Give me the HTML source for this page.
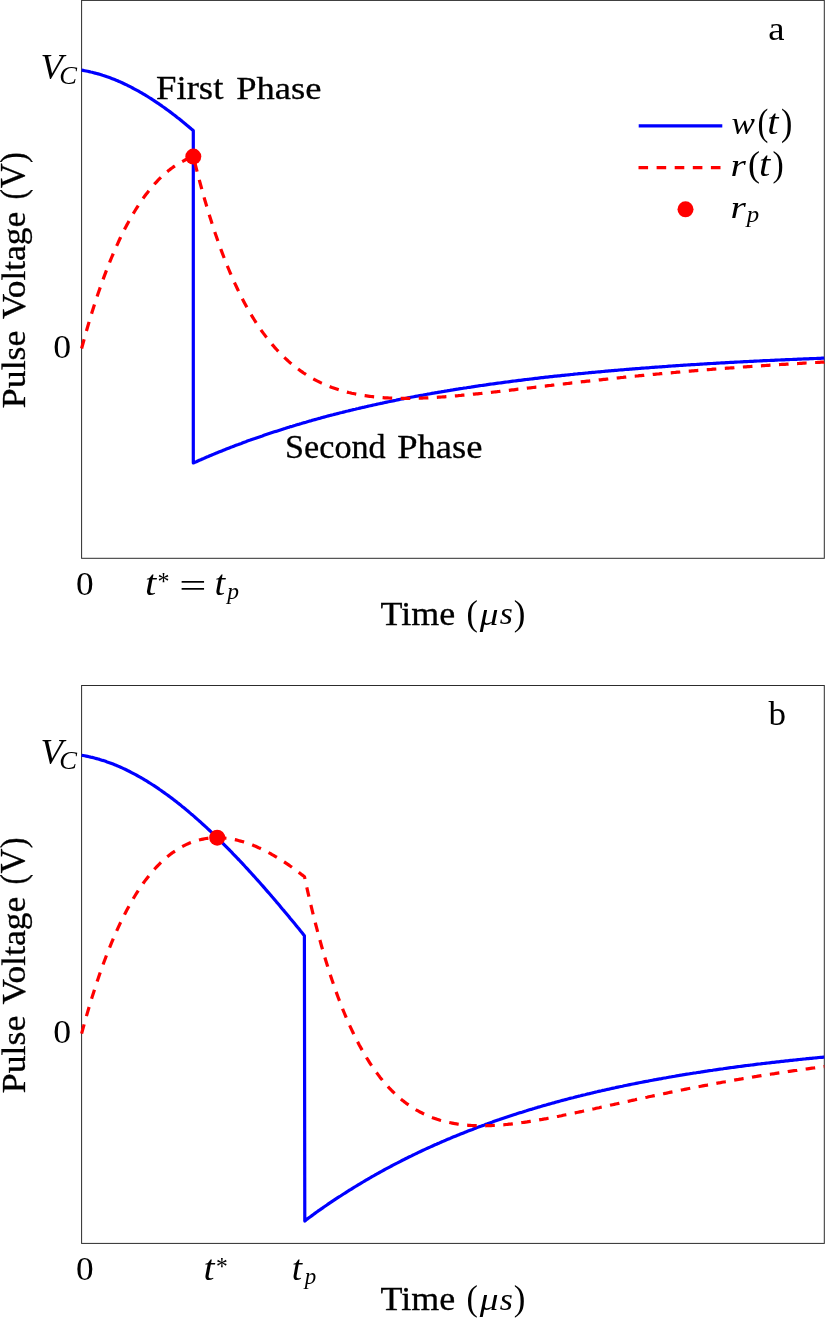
<!DOCTYPE html>
<html><head><meta charset="utf-8"><title>Pulse waveforms</title>
<style>
html,body{margin:0;padding:0;background:#fff;}
svg{display:block}
text{font-family:"Liberation Serif","DejaVu Serif",serif;font-size:100px;fill:#000}
.k{stroke:#000;stroke-width:0.9px}
.i{font-style:italic}
.c{fill:none;stroke-width:3.2;stroke-linejoin:round}
</style></head><body>
<svg width="825" height="1318" viewBox="0 0 825 1318">
<rect width="825" height="1318" fill="#fff"/>
<!-- panel a -->
<rect x="81.6" y="0.4" width="742.7" height="557.9" fill="none" stroke="#2c2c2c" stroke-width="1"/>
<polyline class="c" stroke="#0000ff" points="81.6,70.2 83.1,70.4 84.6,70.7 86.1,71.0 87.6,71.3 89.1,71.6 90.6,72.0 92.1,72.3 93.6,72.7 95.1,73.1 96.6,73.5 98.1,73.9 99.6,74.3 101.1,74.8 102.6,75.3 104.1,75.7 105.6,76.2 107.1,76.8 108.6,77.3 110.1,77.8 111.6,78.4 113.1,79.0 114.6,79.6 116.1,80.2 117.6,80.8 119.1,81.5 120.6,82.1 122.1,82.8 123.6,83.5 125.1,84.2 126.6,84.9 128.1,85.7 129.6,86.4 131.1,87.2 132.6,88.0 134.1,88.8 135.6,89.6 137.1,90.4 138.6,91.2 140.1,92.1 141.6,92.9 143.1,93.8 144.6,94.7 146.1,95.6 147.6,96.5 149.1,97.5 150.6,98.4 152.1,99.4 153.6,100.3 155.1,101.3 156.6,102.3 158.1,103.3 159.6,104.4 161.1,105.4 162.6,106.5 164.1,107.5 165.6,108.6 167.1,109.7 168.6,110.8 170.1,111.9 171.6,113.0 173.1,114.2 174.6,115.3 176.1,116.5 177.6,117.7 179.1,118.8 180.6,120.0 182.1,121.3 183.6,122.5 185.1,123.7 186.6,125.0 188.1,126.2 189.6,127.5 191.1,128.8 192.6,130.0 193.3,130.7 193.3,463.0 194.8,462.3 196.3,461.7 197.8,461.0 199.3,460.3 200.8,459.7 202.3,459.0 203.8,458.4 205.3,457.7 206.8,457.1 208.3,456.5 209.8,455.8 211.3,455.2 212.8,454.6 214.3,453.9 215.8,453.3 217.3,452.7 218.8,452.1 220.3,451.5 221.8,450.9 223.3,450.3 224.8,449.7 226.3,449.1 227.8,448.5 229.3,447.9 230.8,447.3 232.3,446.8 233.8,446.2 235.3,445.6 236.8,445.0 238.3,444.5 239.8,443.9 241.3,443.4 242.8,442.8 244.3,442.2 245.8,441.7 247.3,441.1 248.8,440.6 250.3,440.1 251.8,439.5 253.3,439.0 254.8,438.5 256.4,437.9 257.9,437.4 259.4,436.9 260.9,436.4 262.4,435.9 263.9,435.3 265.4,434.8 266.9,434.3 268.4,433.8 269.9,433.3 271.4,432.8 272.9,432.3 274.4,431.8 275.9,431.4 277.4,430.9 278.9,430.4 280.4,429.9 281.9,429.4 283.4,428.9 284.9,428.5 286.4,428.0 287.9,427.5 289.4,427.1 290.9,426.6 292.4,426.2 293.9,425.7 295.4,425.3 296.9,424.8 298.4,424.4 299.9,423.9 301.4,423.5 302.9,423.0 304.4,422.6 305.9,422.2 307.4,421.7 308.9,421.3 310.4,420.9 311.9,420.4 313.4,420.0 314.9,419.6 316.4,419.2 317.9,418.8 319.4,418.4 320.9,417.9 322.4,417.5 323.9,417.1 325.4,416.7 326.9,416.3 328.4,415.9 329.9,415.5 331.4,415.1 332.9,414.8 334.4,414.4 335.9,414.0 337.4,413.6 338.9,413.2 340.4,412.8 341.9,412.5 343.4,412.1 344.9,411.7 346.4,411.3 347.9,411.0 349.4,410.6 350.9,410.2 352.4,409.9 353.9,409.5 355.4,409.2 356.9,408.8 358.4,408.5 359.9,408.1 361.4,407.7 362.9,407.4 364.4,407.1 365.9,406.7 367.4,406.4 368.9,406.0 370.4,405.7 371.9,405.4 373.4,405.0 374.9,404.7 376.4,404.4 377.9,404.0 379.4,403.7 380.9,403.4 382.4,403.1 383.9,402.7 385.4,402.4 386.9,402.1 388.4,401.8 389.9,401.5 391.4,401.2 392.9,400.9 394.4,400.6 395.9,400.3 397.4,399.9 398.9,399.6 400.4,399.3 401.9,399.0 403.4,398.8 404.9,398.5 406.4,398.2 407.9,397.9 409.4,397.6 410.9,397.3 412.4,397.0 413.9,396.7 415.4,396.4 416.9,396.2 418.4,395.9 419.9,395.6 421.4,395.3 422.9,395.1 424.4,394.8 425.9,394.5 427.4,394.2 428.9,394.0 430.4,393.7 431.9,393.4 433.4,393.2 434.9,392.9 436.4,392.7 437.9,392.4 439.4,392.1 440.9,391.9 442.4,391.6 443.9,391.4 445.4,391.1 446.9,390.9 448.4,390.6 449.9,390.4 451.4,390.1 452.9,389.9 454.4,389.6 455.9,389.4 457.4,389.2 458.9,388.9 460.4,388.7 461.9,388.5 463.4,388.2 464.9,388.0 466.4,387.8 467.9,387.5 469.4,387.3 470.9,387.1 472.4,386.8 473.9,386.6 475.4,386.4 476.9,386.2 478.4,385.9 479.9,385.7 481.4,385.5 482.9,385.3 484.4,385.1 485.9,384.9 487.4,384.6 488.9,384.4 490.4,384.2 491.9,384.0 493.4,383.8 494.9,383.6 496.4,383.4 497.9,383.2 499.4,383.0 500.9,382.8 502.4,382.6 503.9,382.4 505.4,382.2 506.9,382.0 508.4,381.8 509.9,381.6 511.4,381.4 512.9,381.2 514.4,381.0 515.9,380.8 517.4,380.6 518.9,380.4 520.4,380.3 521.9,380.1 523.4,379.9 524.9,379.7 526.4,379.5 527.9,379.3 529.4,379.2 530.9,379.0 532.4,378.8 533.9,378.6 535.4,378.4 536.9,378.3 538.4,378.1 539.9,377.9 541.4,377.7 542.9,377.6 544.4,377.4 545.9,377.2 547.4,377.1 548.9,376.9 550.4,376.7 551.9,376.6 553.4,376.4 554.9,376.2 556.4,376.1 557.9,375.9 559.4,375.8 560.9,375.6 562.4,375.4 563.9,375.3 565.4,375.1 566.9,375.0 568.4,374.8 569.9,374.7 571.4,374.5 572.9,374.4 574.4,374.2 575.9,374.0 577.4,373.9 578.9,373.7 580.4,373.6 581.9,373.5 583.4,373.3 584.9,373.2 586.4,373.0 587.9,372.9 589.4,372.7 590.9,372.6 592.4,372.4 593.9,372.3 595.4,372.2 596.9,372.0 598.4,371.9 599.9,371.8 601.4,371.6 602.9,371.5 604.4,371.3 605.9,371.2 607.4,371.1 608.9,370.9 610.4,370.8 611.9,370.7 613.4,370.6 614.9,370.4 616.4,370.3 617.9,370.2 619.4,370.0 620.9,369.9 622.4,369.8 623.9,369.7 625.4,369.5 626.9,369.4 628.4,369.3 629.9,369.2 631.4,369.1 632.9,368.9 634.4,368.8 635.9,368.7 637.4,368.6 638.9,368.5 640.4,368.3 641.9,368.2 643.4,368.1 644.9,368.0 646.4,367.9 647.9,367.8 649.4,367.7 650.9,367.5 652.4,367.4 653.9,367.3 655.4,367.2 656.9,367.1 658.4,367.0 659.9,366.9 661.4,366.8 662.9,366.7 664.4,366.6 665.9,366.5 667.4,366.3 668.9,366.2 670.4,366.1 671.9,366.0 673.4,365.9 674.9,365.8 676.4,365.7 677.9,365.6 679.4,365.5 680.9,365.4 682.4,365.3 683.9,365.2 685.4,365.1 686.9,365.0 688.4,364.9 689.9,364.8 691.4,364.7 692.9,364.6 694.4,364.6 695.9,364.5 697.4,364.4 698.9,364.3 700.4,364.2 701.9,364.1 703.4,364.0 704.9,363.9 706.4,363.8 707.9,363.7 709.4,363.6 710.9,363.5 712.4,363.5 713.9,363.4 715.4,363.3 716.9,363.2 718.4,363.1 719.9,363.0 721.4,362.9 722.9,362.9 724.4,362.8 725.9,362.7 727.4,362.6 728.9,362.5 730.4,362.4 731.9,362.4 733.4,362.3 734.9,362.2 736.4,362.1 737.9,362.0 739.4,362.0 740.9,361.9 742.4,361.8 743.9,361.7 745.4,361.6 746.9,361.6 748.4,361.5 749.9,361.4 751.4,361.3 752.9,361.3 754.4,361.2 755.9,361.1 757.4,361.0 758.9,361.0 760.4,360.9 761.9,360.8 763.4,360.7 764.9,360.7 766.4,360.6 767.9,360.5 769.4,360.5 770.9,360.4 772.4,360.3 773.9,360.3 775.4,360.2 776.9,360.1 778.4,360.0 779.9,360.0 781.4,359.9 782.9,359.8 784.4,359.8 785.9,359.7 787.4,359.6 788.9,359.6 790.4,359.5 791.9,359.5 793.4,359.4 794.9,359.3 796.4,359.3 797.9,359.2 799.4,359.1 800.9,359.1 802.4,359.0 803.9,358.9 805.4,358.9 806.9,358.8 808.4,358.8 809.9,358.7 811.4,358.6 812.9,358.6 814.4,358.5 815.9,358.5 817.4,358.4 818.9,358.4 820.4,358.3 821.9,358.2 823.4,358.2 824.3,358.1"/>
<polyline class="c" stroke="#ff0000" stroke-dasharray="9.6 8.5" points="81.6,348.5 83.1,343.0 84.6,337.5 86.1,332.2 87.6,327.0 89.1,321.9 90.6,316.9 92.1,312.0 93.6,307.3 95.1,302.6 96.6,298.0 98.1,293.6 99.6,289.2 101.1,284.9 102.6,280.7 104.1,276.6 105.6,272.6 107.1,268.7 108.6,264.9 110.1,261.2 111.6,257.5 113.1,254.0 114.6,250.5 116.1,247.1 117.6,243.8 119.1,240.5 120.6,237.3 122.1,234.3 123.6,231.2 125.1,228.3 126.6,225.4 128.1,222.7 129.6,219.9 131.1,217.3 132.6,214.7 134.1,212.2 135.6,209.7 137.1,207.3 138.6,205.0 140.1,202.8 141.6,200.6 143.1,198.4 144.6,196.3 146.1,194.3 147.6,192.4 149.1,190.5 150.6,188.6 152.1,186.8 153.6,185.1 155.1,183.4 156.6,181.8 158.1,180.2 159.6,178.7 161.1,177.2 162.6,175.8 164.1,174.4 165.6,173.1 167.1,171.8 168.6,170.6 170.1,169.4 171.6,168.3 173.1,167.2 174.6,166.2 176.1,165.2 177.6,164.2 179.1,163.3 180.6,162.4 182.1,161.6 183.6,160.8 185.1,160.0 186.6,159.3 188.1,158.6 189.6,158.0 191.1,157.4 192.6,156.9 193.3,156.6 194.1,159.7 195.6,165.7 197.1,171.6 198.6,177.4 200.1,183.0 201.6,188.5 203.1,193.9 204.6,199.2 206.1,204.3 207.6,209.4 209.1,214.3 210.6,219.1 212.1,223.8 213.6,228.4 215.1,232.9 216.6,237.3 218.1,241.6 219.6,245.8 221.1,249.9 222.6,253.9 224.1,257.8 225.6,261.6 227.1,265.4 228.6,269.0 230.1,272.6 231.6,276.1 233.1,279.5 234.6,282.8 236.1,286.0 237.6,289.2 239.1,292.3 240.6,295.3 242.1,298.3 243.6,301.2 245.1,304.0 246.6,306.7 248.1,309.4 249.6,312.0 251.1,314.6 252.6,317.1 254.1,319.5 255.6,321.9 257.1,324.2 258.6,326.4 260.1,328.6 261.6,330.8 263.1,332.9 264.6,334.9 266.1,336.9 267.6,338.9 269.1,340.7 270.6,342.6 272.1,344.4 273.6,346.1 275.1,347.9 276.6,349.5 278.1,351.1 279.6,352.7 281.1,354.3 282.6,355.8 284.1,357.2 285.6,358.6 287.1,360.0 288.6,361.4 290.1,362.7 291.6,363.9 293.1,365.2 294.6,366.4 296.1,367.6 297.6,368.7 299.1,369.8 300.6,370.9 302.1,371.9 303.6,373.0 305.1,373.9 306.6,374.9 308.1,375.8 309.6,376.7 311.1,377.6 312.6,378.5 314.1,379.3 315.6,380.1 317.1,380.9 318.6,381.6 320.1,382.4 321.6,383.1 323.1,383.8 324.6,384.4 326.1,385.1 327.6,385.7 329.1,386.3 330.6,386.9 332.1,387.5 333.6,388.0 335.1,388.5 336.6,389.0 338.1,389.5 339.6,390.0 341.1,390.4 342.6,390.9 344.1,391.3 345.6,391.7 347.1,392.1 348.6,392.5 350.1,392.8 351.6,393.2 353.1,393.5 354.6,393.8 356.1,394.1 357.6,394.4 359.1,394.7 360.6,395.0 362.1,395.2 363.6,395.5 365.1,395.7 366.6,395.9 368.1,396.1 369.6,396.3 371.1,396.5 372.6,396.7 374.1,396.9 375.6,397.0 377.1,397.2 378.6,397.3 380.1,397.4 381.6,397.6 383.1,397.7 384.6,397.8 386.1,397.9 387.6,397.9 389.1,398.0 390.6,398.1 392.1,398.1 393.6,398.2 395.1,398.2 396.6,398.3 398.1,398.3 399.6,398.3 401.1,398.4 402.6,398.4 404.1,398.4 405.6,398.4 407.1,398.4 408.6,398.4 410.1,398.4 411.6,398.3 413.1,398.3 414.6,398.3 416.1,398.2 417.6,398.2 419.1,398.2 420.6,398.1 422.1,398.1 423.6,398.0 425.1,397.9 426.6,397.9 428.1,397.8 429.6,397.7 431.1,397.6 432.6,397.5 434.1,397.5 435.6,397.4 437.1,397.3 438.6,397.2 440.1,397.1 441.6,397.0 443.1,396.9 444.6,396.8 446.1,396.6 447.6,396.5 449.1,396.4 450.6,396.3 452.1,396.2 453.6,396.0 455.1,395.9 456.6,395.8 458.1,395.7 459.6,395.5 461.1,395.4 462.6,395.2 464.1,395.1 465.6,395.0 467.1,394.8 468.6,394.7 470.1,394.5 471.6,394.4 473.1,394.2 474.6,394.1 476.1,393.9 477.6,393.8 479.1,393.6 480.6,393.5 482.1,393.3 483.6,393.1 485.1,393.0 486.6,392.8 488.1,392.7 489.6,392.5 491.1,392.3 492.6,392.2 494.1,392.0 495.6,391.8 497.1,391.7 498.6,391.5 500.1,391.3 501.6,391.1 503.1,391.0 504.6,390.8 506.1,390.6 507.6,390.5 509.1,390.3 510.6,390.1 512.1,389.9 513.6,389.8 515.1,389.6 516.6,389.4 518.1,389.2 519.6,389.1 521.1,388.9 522.6,388.7 524.1,388.5 525.6,388.4 527.1,388.2 528.6,388.0 530.1,387.8 531.6,387.7 533.1,387.5 534.6,387.3 536.1,387.1 537.6,387.0 539.1,386.8 540.6,386.6 542.1,386.4 543.6,386.2 545.1,386.1 546.6,385.9 548.1,385.7 549.6,385.5 551.1,385.4 552.6,385.2 554.1,385.0 555.6,384.8 557.1,384.7 558.6,384.5 560.1,384.3 561.6,384.1 563.1,384.0 564.6,383.8 566.1,383.6 567.6,383.5 569.1,383.3 570.6,383.1 572.1,382.9 573.6,382.8 575.1,382.6 576.6,382.4 578.1,382.3 579.6,382.1 581.1,381.9 582.6,381.7 584.1,381.6 585.6,381.4 587.1,381.2 588.6,381.1 590.1,380.9 591.6,380.7 593.1,380.6 594.6,380.4 596.1,380.3 597.6,380.1 599.1,379.9 600.6,379.8 602.1,379.6 603.6,379.4 605.1,379.3 606.6,379.1 608.1,379.0 609.6,378.8 611.1,378.6 612.6,378.5 614.1,378.3 615.6,378.2 617.1,378.0 618.6,377.8 620.1,377.7 621.6,377.5 623.1,377.4 624.6,377.2 626.1,377.1 627.6,376.9 629.1,376.8 630.6,376.6 632.1,376.5 633.6,376.3 635.1,376.2 636.6,376.0 638.1,375.9 639.6,375.7 641.1,375.6 642.6,375.4 644.1,375.3 645.6,375.1 647.1,375.0 648.6,374.8 650.1,374.7 651.6,374.6 653.1,374.4 654.6,374.3 656.1,374.1 657.6,374.0 659.1,373.9 660.6,373.7 662.1,373.6 663.6,373.4 665.1,373.3 666.6,373.2 668.1,373.0 669.6,372.9 671.1,372.8 672.6,372.6 674.1,372.5 675.6,372.4 677.1,372.2 678.6,372.1 680.1,372.0 681.6,371.8 683.1,371.7 684.6,371.6 686.1,371.4 687.6,371.3 689.1,371.2 690.6,371.1 692.1,370.9 693.6,370.8 695.1,370.7 696.6,370.6 698.1,370.4 699.6,370.3 701.1,370.2 702.6,370.1 704.1,370.0 705.6,369.8 707.1,369.7 708.6,369.6 710.1,369.5 711.6,369.4 713.1,369.2 714.6,369.1 716.1,369.0 717.6,368.9 719.1,368.8 720.6,368.7 722.1,368.5 723.6,368.4 725.1,368.3 726.6,368.2 728.1,368.1 729.6,368.0 731.1,367.9 732.6,367.8 734.1,367.7 735.6,367.5 737.1,367.4 738.6,367.3 740.1,367.2 741.6,367.1 743.1,367.0 744.6,366.9 746.1,366.8 747.6,366.7 749.1,366.6 750.6,366.5 752.1,366.4 753.6,366.3 755.1,366.2 756.6,366.1 758.1,366.0 759.6,365.9 761.1,365.8 762.6,365.7 764.1,365.6 765.6,365.5 767.1,365.4 768.6,365.3 770.1,365.2 771.6,365.1 773.1,365.0 774.6,364.9 776.1,364.8 777.6,364.7 779.1,364.6 780.6,364.5 782.1,364.4 783.6,364.4 785.1,364.3 786.6,364.2 788.1,364.1 789.6,364.0 791.1,363.9 792.6,363.8 794.1,363.7 795.6,363.6 797.1,363.6 798.6,363.5 800.1,363.4 801.6,363.3 803.1,363.2 804.6,363.1 806.1,363.0 807.6,363.0 809.1,362.9 810.6,362.8 812.1,362.7 813.6,362.6 815.1,362.5 816.6,362.5 818.1,362.4 819.6,362.3 821.1,362.2 822.6,362.1 824.1,362.1 824.3,362.0"/>
<circle cx="193.3" cy="156.6" r="8.0" fill="#ff0000"/>
<!-- legend -->
<line x1="638.7" y1="125.9" x2="722.3" y2="125.9" stroke="#0000ff" stroke-width="3.2"/>
<line x1="638.5" y1="167.6" x2="722.3" y2="167.6" stroke="#ff0000" stroke-width="3.2" stroke-dasharray="9.6 8.5"/>
<circle cx="685.5" cy="209.3" r="8.0" fill="#ff0000"/>
<text transform="matrix(0.3671 0 0 0.3354 768.32 40.26)">a</text>
<text class="k" transform="matrix(0.3666 0 0 0.3291 156.10 98.80)">First</text>
<text class="k" transform="matrix(0.3652 0 0 0.3209 236.20 98.80)">Phase</text>
<text class="k" transform="matrix(0.3417 0 0 0.3266 285.09 457.60)">Second</text>
<text class="k" transform="matrix(0.3652 0 0 0.3266 397.30 457.60)">Phase</text>
<text class="i" transform="matrix(0.3512 0 0 0.3234 731.42 133.78)">w</text>
<text transform="matrix(0.3255 0 0 0.3691 757.44 134.56)">(</text>
<text class="i" transform="matrix(0.4040 0 0 0.3652 767.28 133.73)">t</text>
<text transform="matrix(0.3417 0 0 0.3691 781.09 134.56)">)</text>
<text class="i" transform="matrix(0.3943 0 0 0.3106 730.42 175.60)">r</text>
<text transform="matrix(0.3608 0 0 0.3636 748.08 176.27)">(</text>
<text class="i" transform="matrix(0.4040 0 0 0.3652 759.08 175.83)">t</text>
<text transform="matrix(0.3379 0 0 0.3636 772.40 176.27)">)</text>
<text class="i" transform="matrix(0.3943 0 0 0.3085 730.42 217.70)">r</text>
<text class="i" transform="matrix(0.2483 0 0 0.2242 746.83 222.24)">p</text>
<text class="i" transform="matrix(0.4040 0 0 0.3583 145.08 594.54)">t</text>
<text transform="matrix(0.2400 0 0 0.2422 157.50 589.96)">*</text>
<text transform="matrix(0.4817 0 0 0.3280 179.19 597.21)">=</text>
<text class="i" transform="matrix(0.3842 0 0 0.3583 214.57 594.54)">t</text>
<text class="i" transform="matrix(0.2351 0 0 0.2227 227.35 599.17)">p</text>
<text class="i" transform="matrix(0.3664 0 0 0.3552 40.38 79.07)">V</text>
<text class="i" transform="matrix(0.2661 0 0 0.2528 59.34 83.95)">C</text>
<text transform="matrix(0.3576 0 0 0.3407 53.16 357.86)">0</text>
<text transform="matrix(0.3529 0 0 0.3378 75.88 594.86)">0</text>
<text class="k" transform="matrix(0.3600 0 0 0.3351 380.57 624.70)">Time</text>
<text transform="matrix(0.3412 0 0 0.3669 466.56 625.30)">(</text>
<text class="i" transform="matrix(0.3743 0 0 0.3230 479.70 624.86)">μ</text>
<text class="i" transform="matrix(0.3362 0 0 0.3083 499.68 624.49)">s</text>
<text transform="matrix(0.3495 0 0 0.3669 513.86 625.30)">)</text>
<text class="k" transform="translate(0,0.0) rotate(-90) matrix(0.3581 0 0 0.3309 -408.17 24.90)">Pulse</text>
<text class="k" transform="translate(0,0.0) rotate(-90) matrix(0.3546 0 0 0.3309 -319.35 24.90)">Voltage</text>
<text class="k" transform="translate(0,0.0) rotate(-90) matrix(0.3137 0 0 0.3655 -199.51 24.90)">(</text>
<text class="k" transform="translate(0,0.0) rotate(-90) matrix(0.3443 0 0 0.3511 -188.34 24.90)">V</text>
<text class="k" transform="translate(0,0.0) rotate(-90) matrix(0.3223 0 0 0.3655 -163.05 24.90)">)</text>
<!-- panel b -->
<rect x="81.6" y="685.5" width="742.7" height="557.9" fill="none" stroke="#2c2c2c" stroke-width="1"/>
<polyline class="c" stroke="#0000ff" points="81.6,755.3 83.1,755.5 84.6,755.8 86.1,756.1 87.6,756.4 89.1,756.7 90.6,757.1 92.1,757.4 93.6,757.8 95.1,758.2 96.6,758.6 98.1,759.0 99.6,759.4 101.1,759.9 102.6,760.4 104.1,760.8 105.6,761.3 107.1,761.9 108.6,762.4 110.1,762.9 111.6,763.5 113.1,764.1 114.6,764.7 116.1,765.3 117.6,765.9 119.1,766.6 120.6,767.2 122.1,767.9 123.6,768.6 125.1,769.3 126.6,770.0 128.1,770.8 129.6,771.5 131.1,772.3 132.6,773.1 134.1,773.9 135.6,774.7 137.1,775.5 138.6,776.3 140.1,777.2 141.6,778.0 143.1,778.9 144.6,779.8 146.1,780.7 147.6,781.6 149.1,782.6 150.6,783.5 152.1,784.5 153.6,785.4 155.1,786.4 156.6,787.4 158.1,788.4 159.6,789.5 161.1,790.5 162.6,791.6 164.1,792.6 165.6,793.7 167.1,794.8 168.6,795.9 170.1,797.0 171.6,798.1 173.1,799.3 174.6,800.4 176.1,801.6 177.6,802.8 179.1,803.9 180.6,805.1 182.1,806.4 183.6,807.6 185.1,808.8 186.6,810.1 188.1,811.3 189.6,812.6 191.1,813.9 192.6,815.1 194.1,816.4 195.6,817.8 197.1,819.1 198.6,820.4 200.1,821.7 201.6,823.1 203.1,824.5 204.6,825.8 206.1,827.2 207.6,828.6 209.1,830.0 210.6,831.4 212.1,832.8 213.6,834.3 215.1,835.7 216.6,837.2 218.1,838.6 219.6,840.1 221.1,841.6 222.6,843.1 224.1,844.6 225.6,846.1 227.1,847.6 228.6,849.1 230.1,850.7 231.6,852.2 233.1,853.8 234.6,855.3 236.1,856.9 237.6,858.5 239.1,860.0 240.6,861.6 242.1,863.2 243.6,864.8 245.1,866.5 246.6,868.1 248.1,869.7 249.6,871.4 251.1,873.0 252.6,874.7 254.1,876.3 255.6,878.0 257.1,879.7 258.6,881.3 260.1,883.0 261.6,884.7 263.1,886.4 264.6,888.1 266.1,889.9 267.6,891.6 269.1,893.3 270.6,895.0 272.1,896.8 273.6,898.5 275.1,900.3 276.6,902.1 278.1,903.8 279.6,905.6 281.1,907.4 282.6,909.2 284.1,910.9 285.6,912.7 287.1,914.5 288.6,916.3 290.1,918.2 291.6,920.0 293.1,921.8 294.6,923.6 296.1,925.4 297.6,927.3 299.1,929.1 300.6,931.0 302.1,932.8 303.6,934.7 304.4,935.7 304.8,1221.1 305.9,1220.0 307.4,1218.9 308.9,1217.8 310.4,1216.7 311.9,1215.6 313.4,1214.5 314.9,1213.4 316.4,1212.3 317.9,1211.2 319.4,1210.2 320.9,1209.1 322.4,1208.1 323.9,1207.0 325.4,1206.0 326.9,1205.0 328.4,1203.9 329.9,1202.9 331.4,1201.9 332.9,1200.9 334.4,1199.9 335.9,1198.9 337.4,1197.9 339.0,1196.9 340.5,1196.0 342.0,1195.0 343.5,1194.0 345.0,1193.1 346.5,1192.1 348.0,1191.2 349.5,1190.2 351.0,1189.3 352.5,1188.3 354.0,1187.4 355.5,1186.5 357.0,1185.6 358.5,1184.7 360.0,1183.8 361.5,1182.9 363.0,1182.0 364.5,1181.1 366.0,1180.2 367.5,1179.3 369.0,1178.5 370.5,1177.6 372.0,1176.7 373.5,1175.9 375.0,1175.0 376.5,1174.2 378.0,1173.3 379.5,1172.5 381.0,1171.7 382.5,1170.8 384.0,1170.0 385.5,1169.2 387.0,1168.4 388.5,1167.6 390.0,1166.8 391.5,1166.0 393.0,1165.2 394.5,1164.4 396.0,1163.6 397.5,1162.9 399.0,1162.1 400.5,1161.3 402.0,1160.5 403.5,1159.8 405.0,1159.0 406.5,1158.3 408.0,1157.5 409.5,1156.8 411.0,1156.1 412.5,1155.3 414.0,1154.6 415.5,1153.9 417.0,1153.2 418.5,1152.4 420.0,1151.7 421.5,1151.0 423.0,1150.3 424.5,1149.6 426.0,1148.9 427.5,1148.2 429.0,1147.6 430.5,1146.9 432.0,1146.2 433.5,1145.5 435.0,1144.8 436.5,1144.2 438.0,1143.5 439.5,1142.9 441.0,1142.2 442.5,1141.6 444.0,1140.9 445.5,1140.3 447.0,1139.6 448.5,1139.0 450.0,1138.4 451.5,1137.7 453.0,1137.1 454.5,1136.5 456.0,1135.9 457.5,1135.3 459.0,1134.7 460.5,1134.1 462.0,1133.5 463.5,1132.9 465.0,1132.3 466.5,1131.7 468.0,1131.1 469.5,1130.5 471.0,1129.9 472.5,1129.4 474.0,1128.8 475.5,1128.2 477.0,1127.6 478.5,1127.1 480.0,1126.5 481.5,1126.0 483.0,1125.4 484.5,1124.9 486.0,1124.3 487.5,1123.8 489.0,1123.2 490.5,1122.7 492.0,1122.2 493.5,1121.6 495.0,1121.1 496.5,1120.6 498.0,1120.1 499.5,1119.6 501.0,1119.0 502.5,1118.5 504.0,1118.0 505.5,1117.5 507.0,1117.0 508.5,1116.5 510.0,1116.0 511.5,1115.5 513.0,1115.0 514.5,1114.5 516.0,1114.1 517.5,1113.6 519.0,1113.1 520.5,1112.6 522.0,1112.2 523.5,1111.7 525.0,1111.2 526.5,1110.8 528.0,1110.3 529.5,1109.8 531.0,1109.4 532.5,1108.9 534.0,1108.5 535.5,1108.0 537.0,1107.6 538.5,1107.1 540.0,1106.7 541.5,1106.3 543.0,1105.8 544.5,1105.4 546.0,1105.0 547.5,1104.5 549.0,1104.1 550.5,1103.7 552.0,1103.3 553.5,1102.9 555.0,1102.4 556.5,1102.0 558.0,1101.6 559.5,1101.2 561.0,1100.8 562.5,1100.4 564.0,1100.0 565.5,1099.6 567.0,1099.2 568.5,1098.8 570.0,1098.4 571.5,1098.0 573.0,1097.7 574.5,1097.3 576.0,1096.9 577.5,1096.5 579.0,1096.1 580.5,1095.8 582.0,1095.4 583.5,1095.0 585.0,1094.7 586.5,1094.3 588.0,1093.9 589.5,1093.6 591.0,1093.2 592.5,1092.9 594.0,1092.5 595.5,1092.1 597.0,1091.8 598.5,1091.4 600.0,1091.1 601.5,1090.8 603.0,1090.4 604.5,1090.1 606.0,1089.7 607.5,1089.4 609.0,1089.1 610.5,1088.7 612.0,1088.4 613.5,1088.1 615.0,1087.8 616.5,1087.4 618.0,1087.1 619.5,1086.8 621.0,1086.5 622.5,1086.2 624.0,1085.8 625.5,1085.5 627.0,1085.2 628.5,1084.9 630.0,1084.6 631.5,1084.3 633.0,1084.0 634.5,1083.7 636.0,1083.4 637.5,1083.1 639.0,1082.8 640.5,1082.5 642.0,1082.2 643.5,1081.9 645.0,1081.6 646.5,1081.3 648.0,1081.1 649.5,1080.8 651.0,1080.5 652.5,1080.2 654.0,1079.9 655.5,1079.7 657.0,1079.4 658.5,1079.1 660.0,1078.8 661.5,1078.6 663.0,1078.3 664.5,1078.0 666.0,1077.8 667.5,1077.5 669.0,1077.2 670.5,1077.0 672.0,1076.7 673.5,1076.5 675.0,1076.2 676.5,1075.9 678.0,1075.7 679.5,1075.4 681.0,1075.2 682.5,1074.9 684.0,1074.7 685.5,1074.4 687.0,1074.2 688.5,1074.0 690.0,1073.7 691.5,1073.5 693.0,1073.2 694.5,1073.0 696.0,1072.8 697.5,1072.5 699.0,1072.3 700.5,1072.1 702.0,1071.8 703.5,1071.6 705.0,1071.4 706.5,1071.2 708.0,1070.9 709.5,1070.7 711.0,1070.5 712.5,1070.3 714.0,1070.0 715.5,1069.8 717.0,1069.6 718.5,1069.4 720.0,1069.2 721.5,1069.0 723.0,1068.8 724.5,1068.5 726.0,1068.3 727.5,1068.1 729.0,1067.9 730.5,1067.7 732.0,1067.5 733.5,1067.3 735.0,1067.1 736.5,1066.9 738.0,1066.7 739.5,1066.5 741.0,1066.3 742.5,1066.1 744.0,1065.9 745.5,1065.7 747.0,1065.5 748.5,1065.3 750.0,1065.2 751.5,1065.0 753.0,1064.8 754.5,1064.6 756.0,1064.4 757.5,1064.2 759.0,1064.0 760.5,1063.9 762.0,1063.7 763.5,1063.5 765.0,1063.3 766.5,1063.1 768.0,1063.0 769.5,1062.8 771.0,1062.6 772.5,1062.4 774.0,1062.3 775.5,1062.1 777.0,1061.9 778.5,1061.8 780.0,1061.6 781.5,1061.4 783.0,1061.3 784.5,1061.1 786.0,1060.9 787.5,1060.8 789.0,1060.6 790.5,1060.4 792.0,1060.3 793.5,1060.1 795.0,1060.0 796.5,1059.8 798.0,1059.6 799.5,1059.5 801.0,1059.3 802.5,1059.2 804.0,1059.0 805.5,1058.9 807.0,1058.7 808.5,1058.6 810.0,1058.4 811.5,1058.3 813.0,1058.1 814.5,1058.0 816.0,1057.8 817.5,1057.7 819.0,1057.5 820.5,1057.4 822.0,1057.3 823.5,1057.1 824.3,1057.0"/>
<polyline class="c" stroke="#ff0000" stroke-dasharray="9.6 8.5" points="81.6,1033.6 83.1,1028.1 84.6,1022.6 86.1,1017.3 87.6,1012.1 89.1,1007.0 90.6,1002.0 92.1,997.1 93.6,992.4 95.1,987.7 96.6,983.1 98.1,978.7 99.6,974.3 101.1,970.0 102.6,965.8 104.1,961.7 105.6,957.7 107.1,953.8 108.6,950.0 110.1,946.3 111.6,942.6 113.1,939.1 114.6,935.6 116.1,932.2 117.6,928.9 119.1,925.6 120.6,922.4 122.1,919.4 123.6,916.3 125.1,913.4 126.6,910.5 128.1,907.8 129.6,905.0 131.1,902.4 132.6,899.8 134.1,897.3 135.6,894.8 137.1,892.4 138.6,890.1 140.1,887.9 141.6,885.7 143.1,883.5 144.6,881.4 146.1,879.4 147.6,877.5 149.1,875.6 150.6,873.7 152.1,871.9 153.6,870.2 155.1,868.5 156.6,866.9 158.1,865.3 159.6,863.8 161.1,862.3 162.6,860.9 164.1,859.5 165.6,858.2 167.1,856.9 168.6,855.7 170.1,854.5 171.6,853.4 173.1,852.3 174.6,851.3 176.1,850.3 177.6,849.3 179.1,848.4 180.6,847.5 182.1,846.7 183.6,845.9 185.1,845.1 186.6,844.4 188.1,843.7 189.6,843.1 191.1,842.5 192.6,842.0 194.1,841.4 195.6,841.0 197.1,840.5 198.6,840.1 200.1,839.7 201.6,839.4 203.1,839.1 204.6,838.8 206.1,838.5 207.6,838.3 209.1,838.1 210.6,838.0 212.1,837.9 213.6,837.8 215.1,837.7 216.6,837.7 218.1,837.7 219.6,837.7 221.1,837.8 222.6,837.9 224.1,838.0 225.6,838.2 227.1,838.3 228.6,838.5 230.1,838.8 231.6,839.0 233.1,839.3 234.6,839.6 236.1,839.9 237.6,840.3 239.1,840.7 240.6,841.1 242.1,841.5 243.6,841.9 245.1,842.4 246.6,842.9 248.1,843.4 249.6,844.0 251.1,844.5 252.6,845.1 254.1,845.7 255.6,846.3 257.1,847.0 258.6,847.7 260.1,848.3 261.6,849.1 263.1,849.8 264.6,850.5 266.1,851.3 267.6,852.1 269.1,852.9 270.6,853.7 272.1,854.6 273.6,855.4 275.1,856.3 276.6,857.2 278.1,858.1 279.6,859.0 281.1,860.0 282.6,860.9 284.1,861.9 285.6,862.9 287.1,863.9 288.6,864.9 290.1,866.0 291.6,867.0 293.1,868.1 294.6,869.2 296.1,870.3 297.6,871.4 299.1,872.6 300.6,873.7 302.1,874.9 303.6,876.0 304.5,876.7 305.1,879.7 306.6,886.5 308.1,893.1 309.6,899.6 311.1,905.9 312.6,912.1 314.1,918.1 315.6,924.0 317.1,929.7 318.6,935.4 320.1,940.8 321.6,946.2 323.1,951.4 324.6,956.5 326.1,961.5 327.6,966.3 329.1,971.1 330.6,975.7 332.1,980.2 333.6,984.6 335.1,988.9 336.6,993.1 338.1,997.2 339.6,1001.1 341.1,1005.0 342.6,1008.8 344.1,1012.5 345.6,1016.1 347.1,1019.6 348.6,1023.0 350.1,1026.4 351.6,1029.6 353.1,1032.8 354.6,1035.9 356.1,1038.9 357.6,1041.8 359.1,1044.7 360.6,1047.4 362.1,1050.1 363.6,1052.8 365.1,1055.3 366.6,1057.8 368.1,1060.2 369.6,1062.6 371.1,1064.9 372.6,1067.1 374.1,1069.3 375.6,1071.4 377.1,1073.4 378.6,1075.4 380.1,1077.4 381.6,1079.2 383.1,1081.1 384.6,1082.8 386.1,1084.6 387.6,1086.2 389.1,1087.9 390.6,1089.4 392.1,1091.0 393.6,1092.4 395.1,1093.9 396.6,1095.3 398.1,1096.6 399.6,1097.9 401.1,1099.2 402.6,1100.4 404.1,1101.6 405.6,1102.7 407.1,1103.9 408.6,1104.9 410.1,1106.0 411.6,1107.0 413.1,1107.9 414.6,1108.9 416.1,1109.8 417.6,1110.6 419.1,1111.5 420.6,1112.3 422.1,1113.0 423.6,1113.8 425.1,1114.5 426.6,1115.2 428.1,1115.8 429.6,1116.5 431.1,1117.1 432.6,1117.7 434.1,1118.2 435.6,1118.7 437.1,1119.3 438.6,1119.7 440.1,1120.2 441.6,1120.6 443.1,1121.1 444.6,1121.5 446.1,1121.8 447.6,1122.2 449.1,1122.5 450.6,1122.8 452.1,1123.1 453.6,1123.4 455.1,1123.7 456.6,1123.9 458.1,1124.2 459.6,1124.4 461.1,1124.6 462.6,1124.7 464.1,1124.9 465.6,1125.0 467.1,1125.2 468.6,1125.3 470.1,1125.4 471.6,1125.5 473.1,1125.6 474.6,1125.6 476.1,1125.7 477.6,1125.7 479.1,1125.8 480.6,1125.8 482.1,1125.8 483.6,1125.8 485.1,1125.8 486.6,1125.7 488.1,1125.7 489.6,1125.6 491.1,1125.6 492.6,1125.5 494.1,1125.4 495.6,1125.4 497.1,1125.3 498.6,1125.2 500.1,1125.0 501.6,1124.9 503.1,1124.8 504.6,1124.7 506.1,1124.5 507.6,1124.4 509.1,1124.2 510.6,1124.1 512.1,1123.9 513.6,1123.7 515.1,1123.5 516.6,1123.3 518.1,1123.1 519.6,1122.9 521.1,1122.7 522.6,1122.5 524.1,1122.3 525.6,1122.1 527.1,1121.9 528.6,1121.6 530.1,1121.4 531.6,1121.2 533.1,1120.9 534.6,1120.7 536.1,1120.4 537.6,1120.2 539.1,1119.9 540.6,1119.6 542.1,1119.4 543.6,1119.1 545.1,1118.8 546.6,1118.6 548.1,1118.3 549.6,1118.0 551.1,1117.7 552.6,1117.4 554.1,1117.1 555.6,1116.8 557.1,1116.5 558.6,1116.3 560.1,1116.0 561.6,1115.7 563.1,1115.3 564.6,1115.0 566.1,1114.7 567.6,1114.4 569.1,1114.1 570.6,1113.8 572.1,1113.5 573.6,1113.2 575.1,1112.9 576.6,1112.5 578.1,1112.2 579.6,1111.9 581.1,1111.6 582.6,1111.3 584.1,1110.9 585.6,1110.6 587.1,1110.3 588.6,1110.0 590.1,1109.6 591.6,1109.3 593.1,1109.0 594.6,1108.7 596.1,1108.3 597.6,1108.0 599.1,1107.7 600.6,1107.3 602.1,1107.0 603.6,1106.7 605.1,1106.3 606.6,1106.0 608.1,1105.7 609.6,1105.4 611.1,1105.0 612.6,1104.7 614.1,1104.4 615.6,1104.0 617.1,1103.7 618.6,1103.4 620.1,1103.0 621.6,1102.7 623.1,1102.4 624.6,1102.0 626.1,1101.7 627.6,1101.4 629.1,1101.1 630.6,1100.7 632.1,1100.4 633.6,1100.1 635.1,1099.8 636.6,1099.4 638.1,1099.1 639.6,1098.8 641.1,1098.5 642.6,1098.1 644.1,1097.8 645.6,1097.5 647.1,1097.2 648.6,1096.8 650.1,1096.5 651.6,1096.2 653.1,1095.9 654.6,1095.6 656.1,1095.3 657.6,1094.9 659.1,1094.6 660.6,1094.3 662.1,1094.0 663.6,1093.7 665.1,1093.4 666.6,1093.1 668.1,1092.7 669.6,1092.4 671.1,1092.1 672.6,1091.8 674.1,1091.5 675.6,1091.2 677.1,1090.9 678.6,1090.6 680.1,1090.3 681.6,1090.0 683.1,1089.7 684.6,1089.4 686.1,1089.1 687.6,1088.8 689.1,1088.5 690.6,1088.2 692.1,1087.9 693.6,1087.6 695.1,1087.3 696.6,1087.1 698.1,1086.8 699.6,1086.5 701.1,1086.2 702.6,1085.9 704.1,1085.6 705.6,1085.3 707.1,1085.1 708.6,1084.8 710.1,1084.5 711.6,1084.2 713.1,1083.9 714.6,1083.7 716.1,1083.4 717.6,1083.1 719.1,1082.8 720.6,1082.6 722.1,1082.3 723.6,1082.0 725.1,1081.8 726.6,1081.5 728.1,1081.2 729.6,1081.0 731.1,1080.7 732.6,1080.4 734.1,1080.2 735.6,1079.9 737.1,1079.6 738.6,1079.4 740.1,1079.1 741.6,1078.9 743.1,1078.6 744.6,1078.4 746.1,1078.1 747.6,1077.9 749.1,1077.6 750.6,1077.4 752.1,1077.1 753.6,1076.9 755.1,1076.6 756.6,1076.4 758.1,1076.1 759.6,1075.9 761.1,1075.7 762.6,1075.4 764.1,1075.2 765.6,1075.0 767.1,1074.7 768.6,1074.5 770.1,1074.3 771.6,1074.0 773.1,1073.8 774.6,1073.6 776.1,1073.3 777.6,1073.1 779.1,1072.9 780.6,1072.7 782.1,1072.4 783.6,1072.2 785.1,1072.0 786.6,1071.8 788.1,1071.5 789.6,1071.3 791.1,1071.1 792.6,1070.9 794.1,1070.7 795.6,1070.5 797.1,1070.3 798.6,1070.0 800.1,1069.8 801.6,1069.6 803.1,1069.4 804.6,1069.2 806.1,1069.0 807.6,1068.8 809.1,1068.6 810.6,1068.4 812.1,1068.2 813.6,1068.0 815.1,1067.8 816.6,1067.6 818.1,1067.4 819.6,1067.2 821.1,1067.0 822.6,1066.8 824.1,1066.6 824.3,1066.6"/>
<circle cx="217.2" cy="837.7" r="8.0" fill="#ff0000"/>
<text transform="matrix(0.3503 0 0 0.3305 768.60 725.07)">b</text>
<text class="i" transform="matrix(0.3960 0 0 0.3617 203.42 1279.54)">t</text>
<text transform="matrix(0.2350 0 0 0.2558 215.92 1275.45)">*</text>
<text class="i" transform="matrix(0.3723 0 0 0.3617 291.82 1279.54)">t</text>
<text class="i" transform="matrix(0.2294 0 0 0.2227 304.72 1284.07)">p</text>
<text class="i" transform="matrix(0.3664 0 0 0.3552 40.38 764.17)">V</text>
<text class="i" transform="matrix(0.2661 0 0 0.2528 59.34 769.05)">C</text>
<text transform="matrix(0.3576 0 0 0.3407 53.16 1042.96)">0</text>
<text transform="matrix(0.3529 0 0 0.3378 75.88 1279.96)">0</text>
<text class="k" transform="matrix(0.3600 0 0 0.3351 380.57 1309.80)">Time</text>
<text transform="matrix(0.3412 0 0 0.3669 466.56 1310.40)">(</text>
<text class="i" transform="matrix(0.3743 0 0 0.3230 479.70 1309.96)">μ</text>
<text class="i" transform="matrix(0.3362 0 0 0.3083 499.68 1309.59)">s</text>
<text transform="matrix(0.3495 0 0 0.3669 513.86 1310.40)">)</text>
<text class="k" transform="translate(0,685.1) rotate(-90) matrix(0.3581 0 0 0.3309 -408.17 24.90)">Pulse</text>
<text class="k" transform="translate(0,685.1) rotate(-90) matrix(0.3546 0 0 0.3309 -319.35 24.90)">Voltage</text>
<text class="k" transform="translate(0,685.1) rotate(-90) matrix(0.3137 0 0 0.3655 -199.51 24.90)">(</text>
<text class="k" transform="translate(0,685.1) rotate(-90) matrix(0.3443 0 0 0.3511 -188.34 24.90)">V</text>
<text class="k" transform="translate(0,685.1) rotate(-90) matrix(0.3223 0 0 0.3655 -163.05 24.90)">)</text>
</svg>
</body></html>
